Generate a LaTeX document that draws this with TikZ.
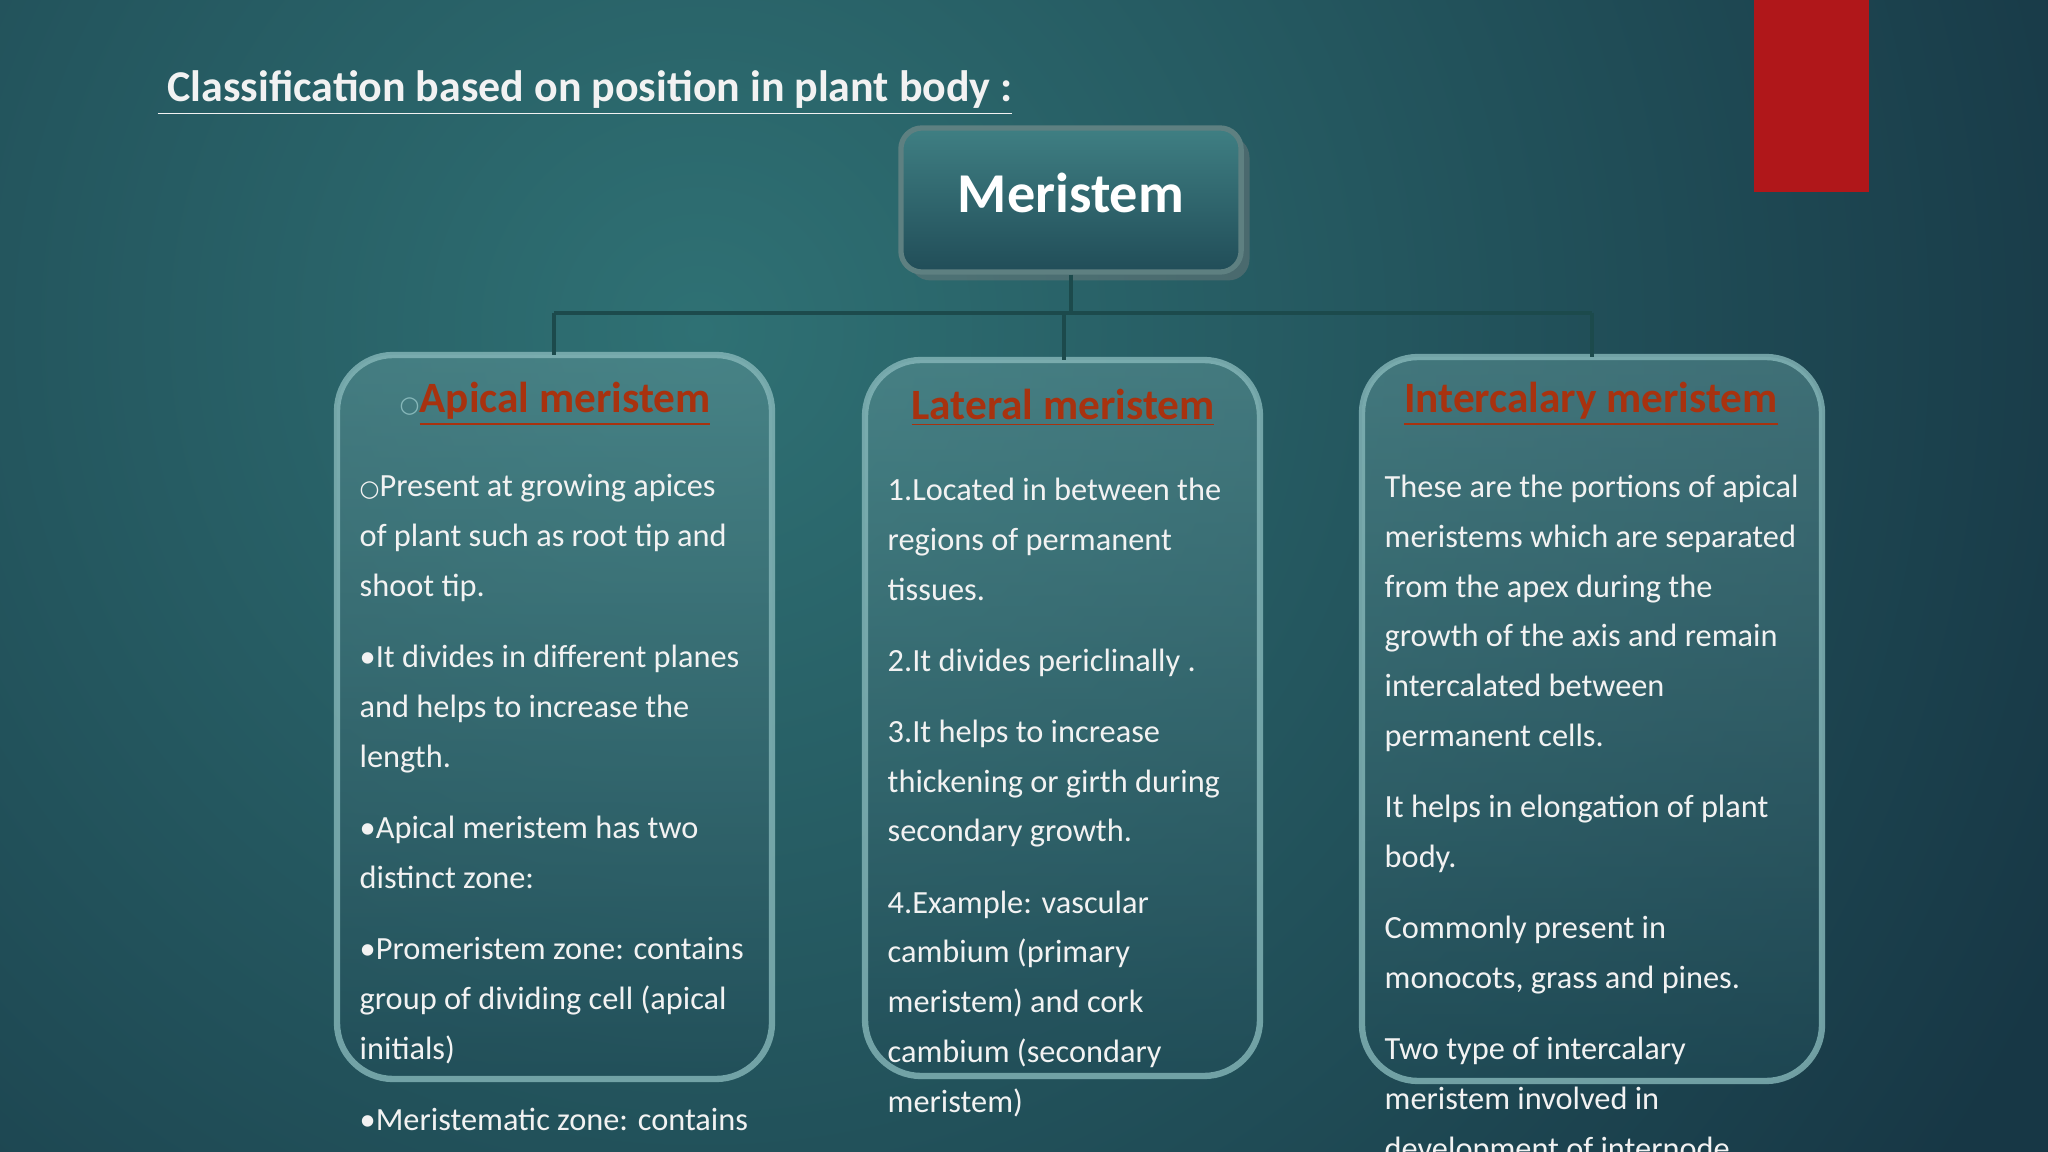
\documentclass[tikz,border=0pt]{standalone}
\usepackage{fontspec}
\setmainfont{Carlito}
\newfontfamily\symfont{DejaVu Sans}
\usetikzlibrary{shadows}
\definecolor{bgin}{HTML}{2F7174}
\definecolor{bgout}{HTML}{173745}
\definecolor{boxin}{HTML}{3F7F83}
\definecolor{boxout}{HTML}{214D58}
\definecolor{boxedge}{HTML}{86B7B9}
\definecolor{headc}{HTML}{A8320F}
\definecolor{txt}{HTML}{F2F2F2}
\definecolor{linec}{HTML}{1C4A4C}
\definecolor{redbox}{HTML}{B0171A}
\newcommand{\wc}{{\symfont\fontsize{6.5pt}{6.5pt}\selectfont ○}}
\tikzset{
  panel/.style={draw=boxedge, line width=1.8pt, rounded corners=16pt, top color=boxin!85!white, bottom color=boxout, fill opacity=0.55, draw opacity=0.8},
  head/.style={font=\fontsize{12.3pt}{14pt}\selectfont\bfseries, text=headc},
  body/.style={anchor=north west, align=left, text=txt, font=\fontsize{9.2pt}{14.2pt}\selectfont, inner sep=0pt},
  conn/.style={draw=linec, line width=1.1pt}
}
\begin{document}
\begin{tikzpicture}[x=0.01cm,y=-0.01cm]
\useasboundingbox (0,0) rectangle (2048,1152);
\clip (0,0) rectangle (2048,1152);
\fill[bgout] (0,0) rectangle (2048,1152);
\shade[inner color=bgin, outer color=bgout] (700,330) circle (1500);
\fill[redbox] (1754,0) rectangle (1869,192);
% title
\node[anchor=west, text=txt, font=\fontsize{12.5pt}{14pt}\selectfont\bfseries, inner sep=0pt] (title) at (157,93) {\underline{\ Classification based on position in plant body :}};
% connectors
\coordinate (j0) at (1071,313);
\coordinate (j1) at (554,313);
\coordinate (j2) at (1064,313);
\coordinate (j3) at (1592,313);
% boxes
\path[panel] (337,355) rectangle (772,1079);
\path[panel] (865,360) rectangle (1260,1076);
\path[panel] (1362,357) rectangle (1822,1081);
\node[draw=boxedge!70!black, line width=1.5pt, rounded corners=6pt, top color=boxin, bottom color=boxout, minimum width=3.4cm, minimum height=1.44cm, font=\fontsize{16pt}{18pt}\selectfont\bfseries, text=white, drop shadow={opacity=0.4}] (mer) at (1071,200) {\raisebox{0.14cm}{Meristem}};
\draw[conn] (mer.south) -- (j0);
\draw[conn] (j1) -- (j3);
\draw[conn] (j1) -- (554,355);
\draw[conn] (j2) -- (1064,360);
\draw[conn] (j3) -- (1592,357);
% headings
\node[head] (h1) at (555,404) {\textcolor{boxedge}{\wc}\underline{Apical meristem}};
\node[head] (h2) at (1063,408) {\underline{Lateral meristem}};
\node[head] (h3) at (1591,404) {\underline{Intercalary meristem}};
% bodies
\node[body] (b1) at (359,474) {\wc Present at growing apices\\ of plant such as root tip and\\ shoot tip.\\[6pt]
•It divides in different planes\\ and helps to increase the\\ length.\\[6pt]
•Apical meristem has two\\ distinct zone:\\[6pt]
•Promeristem zone: contains\\ group of dividing cell (apical\\ initials)\\[6pt]
•Meristematic zone: contains\\ three layers};
\node[body] (b2) at (887,477) {1.Located in between the\\ regions of permanent\\ tissues.\\[6pt]
2.It divides periclinally .\\[6pt]
3.It helps to increase\\ thickening or girth during\\ secondary growth.\\[6pt]
4.Example: vascular\\ cambium (primary\\ meristem) and cork\\ cambium (secondary\\ meristem)};
\node[body] (b3) at (1384,474) {These are the portions of apical\\ meristems which are separated\\ from the apex during the\\ growth of the axis and remain\\ intercalated between\\ permanent cells.\\[6pt]
It helps in elongation of plant\\ body.\\[6pt]
Commonly present in\\ monocots, grass and pines.\\[6pt]
Two type of intercalary\\ meristem involved in\\ development of internode};
\end{tikzpicture}
\end{document}
